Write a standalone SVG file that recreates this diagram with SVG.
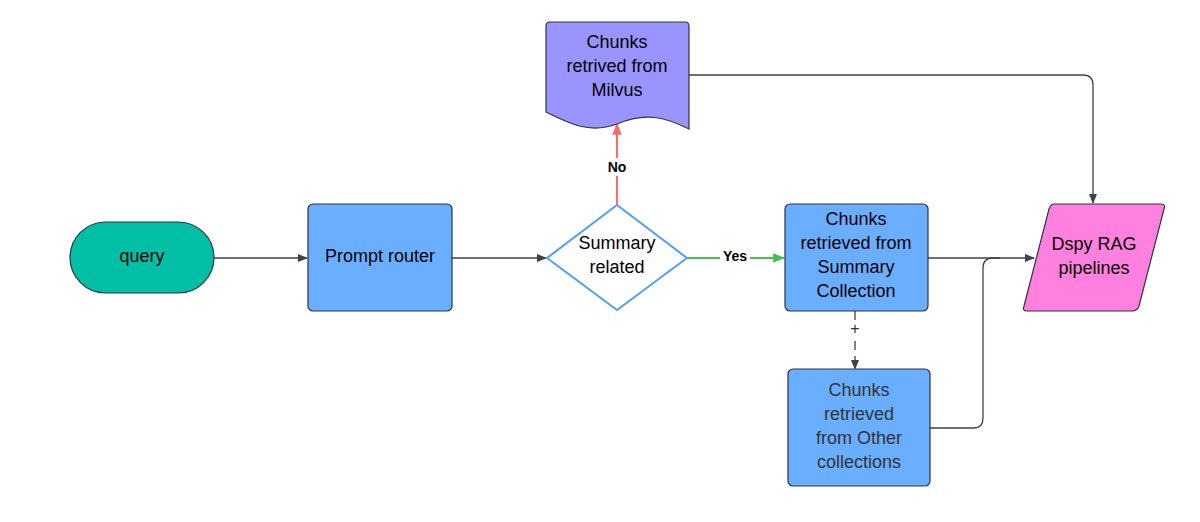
<svg xmlns="http://www.w3.org/2000/svg" width="1200" height="522" viewBox="0 0 1200 522">
<defs>
<style>
text{font-family:"Liberation Sans",Arial,sans-serif;font-size:18px;text-anchor:middle;fill:#000}
.n{stroke:#2e3440;stroke-width:1.2}
.c{fill:none;stroke:#3d434c;stroke-width:1.3}
.lb{font-weight:bold;font-size:14px}
</style>
<marker id="a" viewBox="0 0 10 10" refX="9" refY="5" markerWidth="10" markerHeight="10" markerUnits="userSpaceOnUse" orient="auto"><path d="M0,1L10,5L0,9z" fill="#3d434c"/></marker>
<marker id="ag" viewBox="0 0 10 10" refX="9" refY="5" markerWidth="12" markerHeight="12" markerUnits="userSpaceOnUse" orient="auto"><path d="M0,1L10,5L0,9z" fill="#44c04c"/></marker>
<marker id="ar" viewBox="0 0 10 10" refX="9" refY="5" markerWidth="12" markerHeight="12" markerUnits="userSpaceOnUse" orient="auto"><path d="M0,1L10,5L0,9z" fill="#ff6b6b"/></marker>
</defs>
<rect width="1200" height="522" fill="#fff"/>
<g id="connectors">
<path class="c" d="M214,258H307" marker-end="url(#a)"/>
<path class="c" d="M452,258H546" marker-end="url(#a)"/>
<path d="M687,258H784" fill="none" stroke="#44c04c" stroke-width="2" marker-end="url(#ag)"/>
<rect x="720" y="248" width="30" height="16" fill="#fff"/>
<text class="lb" x="735" y="261">Yes</text>
<path d="M617,205V124" fill="none" stroke="#ff6b6b" stroke-width="2" marker-end="url(#ar)"/>
<rect x="604" y="158" width="26" height="18" fill="#fff"/>
<text class="lb" x="617" y="172">No</text>
<path class="c" d="M689,75H1083Q1093,75 1093,85V203" marker-end="url(#a)"/>
<path class="c" d="M928,258H1034" marker-end="url(#a)"/>
<path class="c" d="M930,428H974Q983,428 983,418V268Q983,258 993,258H1000"/>
<path class="c" d="M855,311V369" stroke-dasharray="9,6" stroke-width="2" marker-end="url(#a)"/>
<rect x="847" y="320" width="16" height="16" fill="#fff"/>
<text x="855" y="334" style="font-size:16px;fill:#333">+</text>
</g>
<g id="query"><rect class="n" x="70" y="222" width="144" height="71" rx="35.5" fill="#00bfa5"/><text x="142" y="262">query</text></g>
<g id="router"><rect class="n" x="308" y="204" width="144" height="107" rx="5" fill="#6aaeff"/><text x="380" y="262">Prompt router</text></g>
<g id="decision"><path d="M617,205L687,258L617,310L547,258Z" fill="#fff" stroke="#4d9fff" stroke-width="2" stroke-linejoin="round"/><text x="617" y="249">Summary</text><text x="617" y="273">related</text></g>
<g id="milvus"><path class="n" d="M550,22H685Q689,22 689,26V129C665,117 645,112 617,124C590,134 570,124 546,112V26Q546,22 550,22Z" fill="#9a94ff"/><text x="617" y="48">Chunks</text><text x="617" y="72">retrived from</text><text x="617" y="96">Milvus</text></g>
<g id="summary"><rect class="n" x="785" y="204" width="143" height="107" rx="5" fill="#6aaeff"/><text x="856" y="225">Chunks</text><text x="856" y="249">retrieved from</text><text x="856" y="273">Summary</text><text x="856" y="297">Collection</text></g>
<g id="other"><rect class="n" x="788" y="369" width="142" height="117" rx="5" fill="#6aaeff"/><text x="859" y="396" style="fill:#333">Chunks</text><text x="859" y="420" style="fill:#333">retrieved</text><text x="859" y="444" style="fill:#333">from Other</text><text x="859" y="468" style="fill:#333">collections</text></g>
<g id="dspy"><path class="n" d="M1054,204H1161Q1166,204 1164,209L1139,306Q1137,311 1132,311H1027Q1022,311 1024,306L1049,209Q1051,204 1054,204Z" fill="#ff80df"/><text x="1094" y="250">Dspy RAG</text><text x="1094" y="274">pipelines</text></g>
</svg>
